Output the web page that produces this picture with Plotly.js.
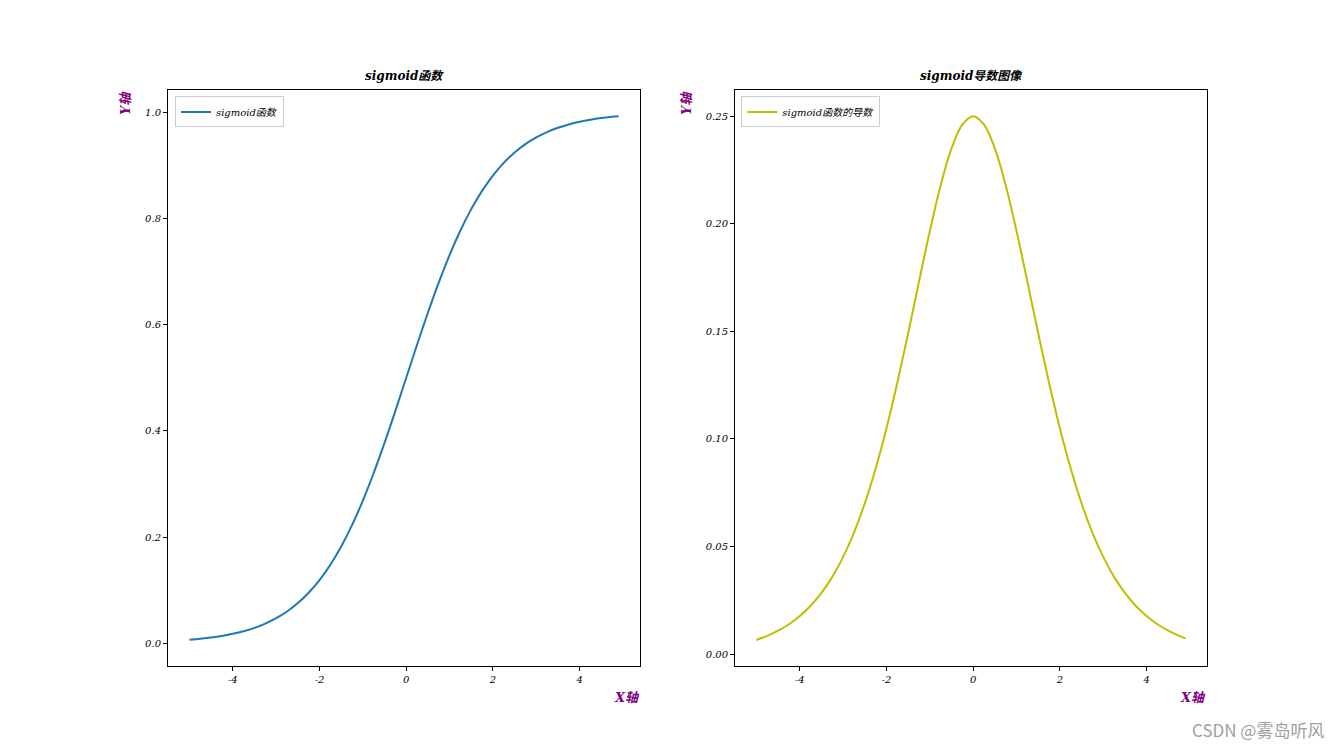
<!DOCTYPE html>
<html>
<head>
<meta charset="utf-8">
<script src="https://cdn.plot.ly/plotly-3.0.1.min.js"></script>
<style>html,body{margin:0;padding:0;background:#fff;}#chart{width:1341px;height:748px;}</style>
</head>
<body>
<div id="chart"></div>
<script>
const xValues = [-5, -4.75, -4.5, -4.25, -4, -3.75, -3.5, -3.25, -3, -2.75, -2.5, -2.25, -2, -1.75, -1.5, -1.25, -1, -0.75, -0.5, -0.25, 0,
                 0.25, 0.5, 0.75, 1, 1.25, 1.5, 1.75, 2, 2.25, 2.5, 2.75, 3, 3.25, 3.5, 3.75, 4, 4.25, 4.5, 4.75, 4.9];
const sigmoidValues = [0.0067, 0.0086, 0.0110, 0.0141, 0.0180, 0.0230, 0.0293, 0.0373, 0.0474, 0.0601, 0.0759, 0.0954, 0.1192, 0.1481, 0.1824, 0.2227, 0.2689, 0.3208, 0.3775, 0.4378, 0.5,
                       0.5622, 0.6225, 0.6792, 0.7311, 0.7773, 0.8176, 0.8519, 0.8808, 0.9047, 0.9241, 0.9399, 0.9526, 0.9627, 0.9707, 0.9770, 0.9820, 0.9859, 0.9890, 0.9914, 0.9926];
const derivValues = [0.0066, 0.0085, 0.0109, 0.0139, 0.0177, 0.0225, 0.0285, 0.0359, 0.0452, 0.0565, 0.0701, 0.0863, 0.1050, 0.1261, 0.1491, 0.1731, 0.1966, 0.2179, 0.2350, 0.2461, 0.25,
                     0.2461, 0.2350, 0.2179, 0.1966, 0.1731, 0.1491, 0.1261, 0.1050, 0.0863, 0.0701, 0.0565, 0.0452, 0.0359, 0.0285, 0.0225, 0.0177, 0.0139, 0.0109, 0.0085, 0.0073];
const xTicks = [-4, -2, 0, 2, 4];
const yTicksLeft = [0.0, 0.2, 0.4, 0.6, 0.8, 1.0];
const yTicksRight = [0.00, 0.05, 0.10, 0.15, 0.20, 0.25];
const titles = ['sigmoid函数', 'sigmoid导数图像'];
const seriesNames = ['sigmoid函数', 'sigmoid函数的导数'];
const xLabel = 'X轴';
const yLabel = 'Y轴';
const watermark = 'CSDN @雾岛听风';

const FONT = '"DejaVu Serif", "Noto Sans CJK SC", serif';
const tickFont = {family: FONT, size: 10, color: '#000', style: 'italic'};
const purple = '#800080';

const traces = [
  {x: xValues, y: sigmoidValues, type: 'scatter', mode: 'lines', name: seriesNames[0],
   line: {color: '#1f77b4', width: 2, shape: 'spline', smoothing: 1}, xaxis: 'x', yaxis: 'y', legend: 'legend'},
  {x: xValues, y: derivValues, type: 'scatter', mode: 'lines', name: seriesNames[1],
   line: {color: '#bfbf00', width: 2, shape: 'spline', smoothing: 1}, xaxis: 'x2', yaxis: 'y2', legend: 'legend2'}
];

function axisBase(extra) {
  return Object.assign({
    showline: true, mirror: true, linecolor: '#000', linewidth: 1,
    ticks: 'outside', ticklen: 4, tickcolor: '#000', tickwidth: 1,
    showgrid: false, zeroline: false, tickfont: tickFont, automargin: false
  }, extra);
}

const legendBase = {
  bgcolor: 'rgba(255,255,255,0.8)', bordercolor: '#cccccc', borderwidth: 1,
  font: {family: FONT, size: 10, color: '#000', style: 'italic'},
  xanchor: 'left', yanchor: 'top', itemwidth: 30, tracegroupgap: 0,
  xref: 'paper', yref: 'paper'
};

const layout = {
  width: 1341, height: 748,
  margin: {l: 0, r: 0, t: 0, b: 0},
  paper_bgcolor: '#fff', plot_bgcolor: '#fff',
  showlegend: true,
  xaxis: axisBase({domain: [0.1253, 0.4773], range: [-5.495, 5.395], tickvals: xTicks, ticktext: xTicks.map(String), anchor: 'y'}),
  yaxis: axisBase({domain: [0.1096, 0.8797], range: [-0.0426, 1.0419], tickvals: yTicksLeft, ticktext: yTicksLeft.map(v => v.toFixed(1)), anchor: 'x'}),
  xaxis2: axisBase({domain: [0.5481, 0.9001], range: [-5.495, 5.395], tickvals: xTicks, ticktext: xTicks.map(String), anchor: 'y2'}),
  yaxis2: axisBase({domain: [0.1096, 0.8797], range: [-0.00552, 0.26217], tickvals: yTicksRight, ticktext: yTicksRight.map(v => v.toFixed(2)), anchor: 'x2'}),
  legend: Object.assign({}, legendBase, {x: 0.1305, y: 0.871}),
  legend2: Object.assign({}, legendBase, {x: 0.5528, y: 0.871}),
  annotations: [
    {text: titles[0], xref: 'paper', yref: 'paper', x: 0.3013, y: 1 - 76/748, xanchor: 'center', yanchor: 'middle', showarrow: false,
     font: {family: FONT, size: 12, color: '#000', style: 'italic', weight: 'bold'}},
    {text: titles[1], xref: 'paper', yref: 'paper', x: 0.7241, y: 1 - 76/748, xanchor: 'center', yanchor: 'middle', showarrow: false,
     font: {family: FONT, size: 12, color: '#000', style: 'italic', weight: 'bold'}},
    {text: xLabel, xref: 'paper', yref: 'paper', x: 627/1341, y: 1 - 697/748, xanchor: 'center', yanchor: 'middle', showarrow: false,
     font: {family: FONT, size: 13, color: purple, style: 'italic', weight: 'bold'}},
    {text: xLabel, xref: 'paper', yref: 'paper', x: 1193/1341, y: 1 - 697/748, xanchor: 'center', yanchor: 'middle', showarrow: false,
     font: {family: FONT, size: 13, color: purple, style: 'italic', weight: 'bold'}},
    {text: yLabel, xref: 'paper', yref: 'paper', x: 125/1341, y: 1 - 103/748, xanchor: 'center', yanchor: 'middle', showarrow: false, textangle: -90,
     font: {family: FONT, size: 13, color: purple, style: 'italic', weight: 'bold'}},
    {text: yLabel, xref: 'paper', yref: 'paper', x: 686/1341, y: 1 - 103/748, xanchor: 'center', yanchor: 'middle', showarrow: false, textangle: -90,
     font: {family: FONT, size: 13, color: purple, style: 'italic', weight: 'bold'}},
    {text: watermark, xref: 'paper', yref: 'paper', x: 1326/1341, y: 1 - 729/748, xanchor: 'right', yanchor: 'middle', showarrow: false,
     font: {family: '"Noto Sans CJK SC", "Liberation Sans", sans-serif', size: 17, color: '#a0a0a0'}}
  ]
};

Plotly.newPlot('chart', traces, layout, {displayModeBar: false, staticPlot: true});
</script>
</body>
</html>
